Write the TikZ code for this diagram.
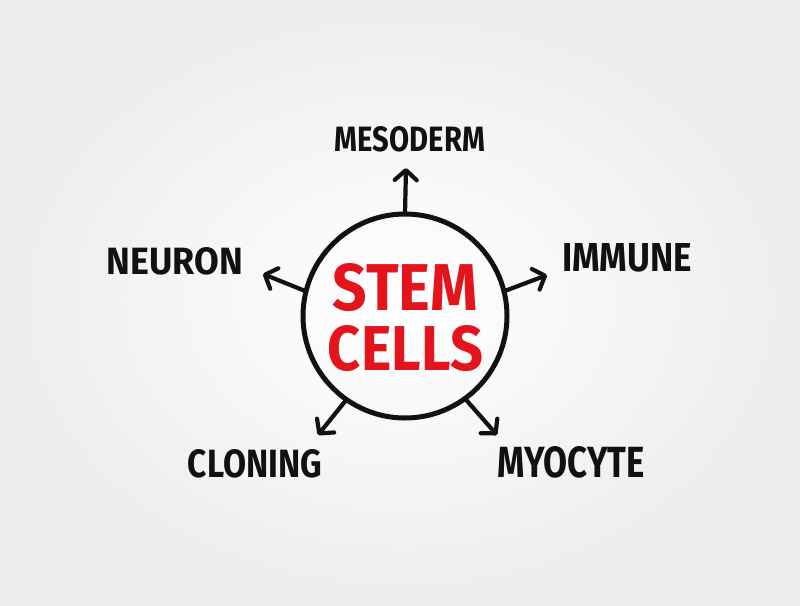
\documentclass[tikz,border=0pt]{standalone}
\usepackage{fontspec}
\setmainfont{Fira Sans}
\usepackage{graphicx}
\usetikzlibrary{arrows.meta}
\definecolor{inkred}{HTML}{E3141B}
\definecolor{ink}{HTML}{111111}
\newcommand{\fitlbl}[3]{\resizebox{#1pt}{#2pt}{\bfseries #3}}
\tikzset{
  lbl/.style={inner sep=0pt, outer sep=0pt, text=ink},
  redlbl/.style={inner sep=0pt, outer sep=0pt, text=inkred},
  hub/.style={circle, draw=ink, line width=5pt, minimum size=204pt, inner sep=0pt, outer sep=0pt},
  arr/.style={draw=ink, line width=4.2pt, line cap=round, line join=round,
    -{Straight Barb[length=10pt, width=22pt, round]}},
}
\begin{document}
\begin{tikzpicture}[x=1pt, y=-1pt]
  \shade[inner color=white, outer color=black!7] (0,0) rectangle (800,605);
  \useasboundingbox (0,0) rectangle (800,605);
  \node[hub] (c) at (405,316) {};
  \node[redlbl] (stem) at (405.5,288) {\fitlbl{145}{47}{STEM}};
  \node[redlbl] (cells) at (405.5,349) {\fitlbl{155}{45}{CELLS}};
  \node[lbl] (meso) at (410,139.5) {\fitlbl{150}{25}{MESODERM}};
  \node[lbl] (neuron) at (175,261.5) {\fitlbl{136}{27}{NEURON}};
  \node[lbl] (immune) at (627,258) {\fitlbl{130}{28}{IMMUNE}};
  \node[lbl] (cloning) at (255,464) {\fitlbl{134}{28}{CLONING}};
  \node[lbl] (myocyte) at (571.5,462.5) {\fitlbl{147}{31}{MYOCYTE}};
  \coordinate (tm) at (406,168);
  \coordinate (tn) at (263,274);
  \coordinate (ti) at (547,275);
  \coordinate (tc) at (318,435);
  \coordinate (ty) at (497,435);
  \draw[arr] (c.90) -- (tm);
  \draw[arr] (c.166) -- (tn);
  \draw[arr] (c.14) -- (ti);
  \draw[arr] (c.235) -- (tc);
  \draw[arr] (c.306) -- (ty);
\end{tikzpicture}
\end{document}
